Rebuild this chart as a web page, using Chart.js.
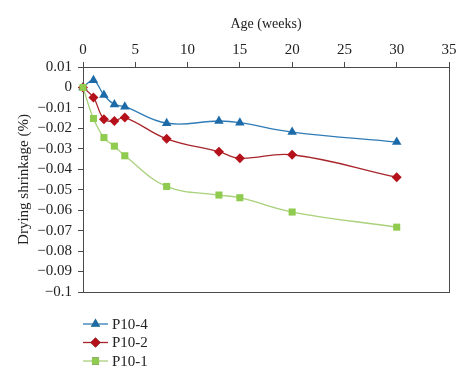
<!DOCTYPE html>
<html>
<head>
<meta charset="utf-8">
<script src="https://cdn.jsdelivr.net/npm/chart.js@4"></script>
<style>
    html, body { margin: 0; padding: 0; background: #fff; }
    #wrap { width: 474px; height: 387px; }
</style>
</head>
<body>
<div id="wrap"><canvas id="chart" width="474" height="387"></canvas></div>
<script>
// 측정 주차 (weeks)
const weeks = [0, 1, 2, 3, 4, 8, 13, 15, 20, 30];
const p104 = [0, 0.0035, -0.0037, -0.0083, -0.0094, -0.0175, -0.0164, -0.0172, -0.0218, -0.0267];
const p102 = [0, -0.0049, -0.0155, -0.0164, -0.0147, -0.0251, -0.0314, -0.0346, -0.0329, -0.0439];
const p101 = [0, -0.0152, -0.0245, -0.0287, -0.0334, -0.0484, -0.0526, -0.0539, -0.0609, -0.0683];
const seriesNames = ['P10-4', 'P10-2', 'P10-1'];

const FONT = "'Liberation Serif', 'DejaVu Serif', serif";
const toPoints = (vals) => vals.map((v, i) => ({ x: weeks[i], y: v }));
const fmt = (v) => {
    const r = Math.round(v * 100) / 100;
    return r === 0 ? '0' : String(r).replace('-', '\u2212');
};

// 차트 영역 테두리
const frame = {
    id: 'frame',
    beforeDatasetsDraw(chart) {
        const a = chart.chartArea;
        const ctx = chart.ctx;
        ctx.save();
        ctx.strokeStyle = '#4a4a4a';
        ctx.lineWidth = 1;
        ctx.strokeRect(a.left + 0.5, a.top + 0.5, a.right - a.left, a.bottom - a.top);
        ctx.restore();
    }
};

// 세로 범례 (왼쪽 아래)
const stackLegend = {
    id: 'stackLegend',
    afterDraw(chart) {
        const ctx = chart.ctx;
        ctx.save();
        chart.data.datasets.forEach((ds, i) => {
            const y = 324 + i * 18.5;
            ctx.strokeStyle = ds.borderColor;
            ctx.lineWidth = 1.3;
            ctx.beginPath();
            ctx.moveTo(83, y);
            ctx.lineTo(108, y);
            ctx.stroke();
            Chart.helpers.drawPoint(ctx, {
                pointStyle: ds.pointStyle,
                radius: ds.pointRadius,
                rotation: 0,
                borderWidth: 0
            }, 95.5, y);
            ctx.fillStyle = ds.pointBackgroundColor;
            ctx.fill();
            ctx.fillStyle = '#222';
            ctx.font = '15px ' + FONT;
            ctx.textBaseline = 'middle';
            ctx.fillText(ds.label, 112, y + 1);
        });
        ctx.restore();
    }
};

new Chart(document.getElementById('chart').getContext('2d'), {
    type: 'line',
    data: {
        datasets: [{
            label: seriesNames[0],
            data: toPoints(p104),
            borderColor: '#2f7bb6',
            pointBackgroundColor: '#1d6aa8',
            pointBorderWidth: 0,
            pointStyle: 'triangle',
            pointRadius: 5.5,
            borderWidth: 1.3,
            tension: 0.4,
            clip: false,
            order: 2
        }, {
            label: seriesNames[1],
            data: toPoints(p102),
            borderColor: '#a8262b',
            pointBackgroundColor: '#b5111b',
            pointBorderWidth: 0,
            pointStyle: 'rectRot',
            pointRadius: 5,
            borderWidth: 1.3,
            tension: 0.4,
            clip: false,
            order: 1
        }, {
            label: seriesNames[2],
            data: toPoints(p101),
            borderColor: '#a9d07a',
            pointBackgroundColor: '#8fcb4f',
            pointBorderWidth: 0,
            pointStyle: 'rect',
            pointRadius: 5,
            borderWidth: 1.3,
            tension: 0.4,
            clip: false,
            order: 0
        }]
    },
    options: {
        responsive: false,
        animation: false,
        layout: { padding: { left: 0, top: 0, right: 25, bottom: 95 } },
        plugins: { legend: { display: false }, tooltip: { enabled: false } },
        scales: {
            x: {
                type: 'linear',
                position: 'top',
                min: 0,
                max: 35,
                afterFit: (s) => { s.height = 67; },
                ticks: { stepSize: 5, autoSkip: false, padding: 3, color: '#222', font: { family: FONT, size: 15 } },
                grid: { drawOnChartArea: false, drawTicks: true, tickLength: 5, color: '#4a4a4a' },
                border: { display: true, color: '#4a4a4a' },
                title: {
                    display: true,
                    text: 'Age (weeks)',
                    color: '#222',
                    font: { family: FONT, size: 14 },
                    padding: { top: 16, bottom: 0 }
                }
            },
            y: {
                min: -0.1,
                max: 0.01,
                afterFit: (s) => { s.width = 83; },
                ticks: {
                    stepSize: 0.01,
                    autoSkip: false,
                    padding: 6,
                    color: '#222',
                    font: { family: FONT, size: 15 },
                    callback: (v) => fmt(v)
                },
                grid: { drawOnChartArea: false, drawTicks: true, tickLength: 5, color: '#4a4a4a' },
                border: { display: true, color: '#4a4a4a' },
                title: {
                    display: true,
                    text: 'Drying shrinkage (%)',
                    color: '#222',
                    font: { family: FONT, size: 15 },
                    padding: { top: 15, bottom: 0 }
                }
            }
        }
    },
    plugins: [frame, stackLegend]
});
</script>
</body>
</html>
